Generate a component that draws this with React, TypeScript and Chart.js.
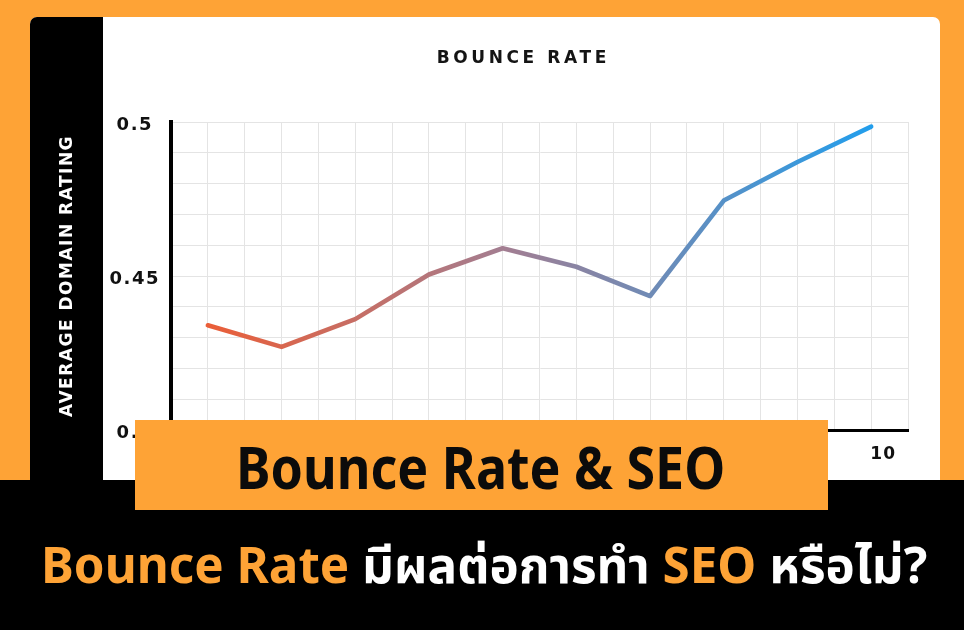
import React, { useEffect, useLayoutEffect, useRef } from 'react';
import { Chart, registerables } from 'chart.js';

Chart.register(...registerables);

// ---- data ----
const categories = [1, 2, 3, 4, 5, 6, 7, 8, 9, 10];
const xTickLabels = ['1', '2', '3', '4', '5', '6', '7', '8', '9', '10'];
const bounceRateValues = [0.434, 0.427, 0.436, 0.4505, 0.459, 0.453, 0.4435, 0.4745, 0.487, 0.4985];
const yTickValues = [0.4, 0.45, 0.5];
const yTickLabels = ['0.4', '0.45', '0.5'];
const chartTitle = 'BOUNCE RATE';
const yAxisTitle = 'AVERAGE DOMAIN RATING';
const bannerText = 'Bounce Rate & SEO';
const headlineParts = [
  { text: 'Bounce Rate', accent: true },
  { text: ' มีผลต่อการทำ ', accent: false },
  { text: 'SEO', accent: true },
  { text: ' หรือไม่?', accent: false },
];

// ---- styles ----
const ORANGE = '#FEA336';
const AXIS_FONT = '"DejaVu Sans", "Noto Sans", sans-serif';
const BANNER_FONT = '"Noto Sans", "Noto Sans Thai", "Noto Sans Thai UI", "Noto Looped Thai", "Open Sans", sans-serif';
const STRIP_W = 73; // black strip width inside the canvas

function FitText(props: { width: number; top: number; center: number; size: number; color: string; children: React.ReactNode }) {
  const ref = useRef<HTMLSpanElement>(null);
  useLayoutEffect(() => {
    const fit = () => {
      const el = ref.current;
      if (!el) return;
      const w = el.offsetWidth;
      if (w > 0) el.style.transform = `scaleX(${props.width / w})`;
    };
    fit();
    if ((document as any).fonts && (document as any).fonts.ready) {
      (document as any).fonts.ready.then(fit);
    }
  }, []);
  const boxW = 1600;
  return (
    <div
      style={{
        position: 'absolute',
        left: props.center - boxW / 2,
        width: boxW,
        top: props.top,
        textAlign: 'center',
        fontFamily: BANNER_FONT,
        fontWeight: 700,
        fontSize: props.size,
        lineHeight: `${props.size}px`,
        color: props.color,
        whiteSpace: 'nowrap',
      }}
    >
      <span ref={ref} style={{ display: 'inline-block', transformOrigin: '50% 50%' }}>
        {props.children}
      </span>
    </div>
  );
}

// letter spacing for axis texts + a card-centred title
const textPlugin = {
  id: 'cardText',
  beforeDraw(chart: any) {
    const wrap = (obj: any, key: string, spacing: string) => {
      if (!obj || obj['__wrapped_' + key]) return;
      const orig = obj[key];
      obj[key] = function (...args: any[]) {
        const c = chart.ctx as any;
        const prev = c.letterSpacing;
        c.letterSpacing = spacing;
        try {
          return orig.apply(this, args);
        } finally {
          c.letterSpacing = prev;
        }
      };
      obj['__wrapped_' + key] = true;
    };
    wrap(chart.scales.y, 'drawTitle', '1.5px');
    wrap(chart.scales.y, 'drawLabels', '1.5px');
    wrap(chart.scales.x, 'drawLabels', '1px');
  },
  afterDraw(chart: any, _args: any, opts: any) {
    const ctx = chart.ctx as any;
    ctx.save();
    ctx.letterSpacing = opts.spacing;
    ctx.font = `bold ${opts.size}px ${AXIS_FONT}`;
    ctx.fillStyle = opts.color;
    ctx.textAlign = 'center';
    ctx.textBaseline = 'middle';
    const cx = (STRIP_W + chart.width) / 2 + parseFloat(opts.spacing) / 2;
    ctx.fillText(opts.text, cx, opts.y);
    ctx.restore();
  },
};

export default function App() {
  const canvasRef = useRef<HTMLCanvasElement>(null);

  useEffect(() => {
    const canvas = canvasRef.current;
    if (!canvas) return;
    const chart = new Chart(canvas, {
      type: 'line',
      data: {
        datasets: [
          {
            label: 'Bounce rate',
            data: categories.map((c, i) => ({ x: c, y: bounceRateValues[i] })),
            borderWidth: 4.6,
            pointRadius: 0,
            pointHoverRadius: 0,
            tension: 0,
            borderCapStyle: 'round',
            borderJoinStyle: 'round',
            borderColor: (context: any) => {
              const ch = context.chart;
              const area = ch.chartArea;
              if (!area || !ch.scales.x) return '#EA5E38';
              const x0 = ch.scales.x.getPixelForValue(categories[0]);
              const x1 = ch.scales.x.getPixelForValue(categories[categories.length - 1]);
              const g = ch.ctx.createLinearGradient(x0, 0, x1, 0);
              g.addColorStop(0, '#EA5E38');
              g.addColorStop(0.45, '#A27E92');
              g.addColorStop(1, '#229EEC');
              return g;
            },
          },
        ],
      },
      options: {
        responsive: false,
        maintainAspectRatio: false,
        animation: false,
        events: [],
        layout: { padding: { left: 0, right: 32, top: 105, bottom: 0 } },
        plugins: {
          legend: { display: false },
          tooltip: { enabled: false },
          title: { display: false },
          cardText: { text: chartTitle, size: 17, spacing: '3.6px', color: '#141414', y: 42 },
        },
        scales: {
          x: {
            type: 'linear',
            min: 0.5,
            max: 10.5,
            grid: { color: '#e4e4e4', lineWidth: 1, drawTicks: false },
            border: { color: '#000', width: 3 },
            ticks: {
              stepSize: 0.5,
              autoSkip: false,
              maxRotation: 0,
              padding: 14,
              labelOffset: 12,
              color: '#111',
              font: { family: AXIS_FONT, size: 17, weight: 'bold' },
              callback: (v: any) => {
                const n = Number(v);
                const idx = categories.indexOf(Math.round(n));
                return Math.abs(n - Math.round(n)) < 1e-6 && idx >= 0 ? xTickLabels[idx] : '';
              },
            },
            afterFit: (s: any) => {
              s.height = 50;
            },
          },
          y: {
            type: 'linear',
            min: 0.4,
            max: 0.5,
            grid: { color: '#e4e4e4', lineWidth: 1, drawTicks: false },
            border: { color: '#000', width: 4 },
            ticks: {
              stepSize: 0.01,
              autoSkip: false,
              crossAlign: 'center',
              padding: 14,
              labelOffset: 3,
              color: '#111',
              font: { family: AXIS_FONT, size: 18, weight: 'bold' },
              callback: (v: any) => {
                const n = Number(v);
                const idx = yTickValues.findIndex((t) => Math.abs(t - n) < 1e-6);
                return idx >= 0 ? yTickLabels[idx] : '';
              },
            },
            title: {
              display: true,
              text: yAxisTitle,
              color: '#ffffff',
              font: { family: AXIS_FONT, size: 17, weight: 'bold' },
              padding: { top: 27, bottom: 0 },
            },
            afterFit: (s: any) => {
              s.width = 141;
            },
          },
        },
      } as any,
      plugins: [textPlugin],
    });
    return () => chart.destroy();
  }, []);

  return (
    <div style={{ position: 'absolute', left: 0, top: 0, width: 964, height: 630, overflow: 'hidden', background: ORANGE }}>
      <div style={{ position: 'absolute', left: 30, top: 17, width: 910, height: 480, background: '#ffffff', borderRadius: 7 }} />
      <div style={{ position: 'absolute', left: 30, top: 17, width: STRIP_W, height: 480, background: '#000000', borderTopLeftRadius: 7 }} />
      <canvas ref={canvasRef} width={910} height={463} style={{ position: 'absolute', left: 30, top: 17, width: 910, height: 463 }} />
      <div style={{ position: 'absolute', left: 0, top: 480, width: 964, height: 150, background: '#000000' }} />
      <div style={{ position: 'absolute', left: 135, top: 420, width: 693, height: 90, background: ORANGE }} />
      <FitText width={489} top={436} center={480.5} size={60} color="#0b0b0b">
        {bannerText}
      </FitText>
      <FitText width={886} top={539} center={484} size={50} color="#ffffff">
        {headlineParts.map((p, i) => (
          <span key={i} style={{ color: p.accent ? ORANGE : '#ffffff', whiteSpace: 'pre' }}>
            {p.text}
          </span>
        ))}
      </FitText>
    </div>
  );
}
